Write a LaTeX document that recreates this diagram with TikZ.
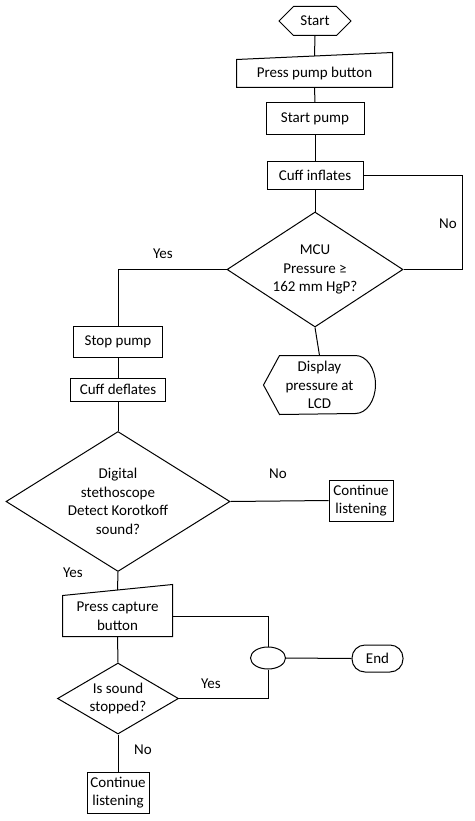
\documentclass[tikz,border=0pt]{standalone}
\usepackage{fontspec}
\setmainfont{Carlito}
\usetikzlibrary{shapes.geometric,shapes.symbols}

\begin{document}
\begin{tikzpicture}[x=1pt,y=-1pt,line width=1pt,
    every node/.style={font=\fontsize{15}{18.5}\selectfont},
    box/.style={draw,rectangle,align=center,inner sep=0pt},
    plain/.style={rectangle,align=center,inner sep=0pt},
    decision/.style={draw,diamond,align=center,inner sep=0pt}]
    \useasboundingbox (0,0) rectangle (474,821);

    % Pumping part
    \node[draw,signal,signal to=west and east,minimum width=72pt,minimum height=29pt,inner sep=0pt] (start) at (315,21) {Start};
    \node[plain,minimum width=155pt,minimum height=27pt] (ppb) at (314.5,73.5) {Press pump button};
    \draw (ppb.south west) -- (ppb.north west) -- coordinate[pos=.5] (ppbtop) ([yshift=7pt]ppb.north east) -- (ppb.south east) -- cycle;
    \node[box,minimum width=98pt,minimum height=32pt] (sp) at (315,119) {Start pump};
    \node[box,minimum width=96pt,minimum height=27pt] (ci) at (315,175.5) {Cuff inflates};
    \node[decision,aspect=1.53,minimum width=176pt,minimum height=115pt] (mcu) at (315,269.5) {MCU\\Pressure ≥\\162 mm HgP?};

    % Display
    \node[plain,minimum width=111pt,minimum height=58pt] (disp) at (319.5,385) {Display\\pressure at\\LCD};
    \draw (disp.west) -- ([xshift=16pt]disp.north west) -- ([xshift=-20pt]disp.north east)
        arc[start angle=90,end angle=-90,x radius=20pt,y radius=29pt] -- ([xshift=16pt]disp.south west) -- cycle;

    % Deflating part
    \node[box,minimum width=89pt,minimum height=31pt] (stop) at (118,341.5) {Stop pump};
    \node[box,minimum width=95pt,minimum height=23pt] (cd) at (118,389.5) {Cuff deflates};
    \node[decision,aspect=1.6,minimum width=224pt,minimum height=140pt] (dsd) at (118,501.5) {Digital\\stethoscope\\Detect Korotkoff\\sound?};
    \node[box,minimum width=64pt,minimum height=41pt] (cl1) at (361,500.5) {Continue\\listening};

    % Capture part
    \node[plain,minimum width=109pt,minimum height=40pt] (pcb) at (117.5,616) {Press capture\\button};
    \draw (pcb.south west) -- (pcb.north west) -- coordinate[pos=.5] (pcbtop) ([yshift=11pt]pcb.north east) -- (pcb.south east) -- cycle;
    \node[draw,ellipse,minimum width=35pt,minimum height=22pt,inner sep=0pt] (join) at (268,658) {};
    \node[draw,rounded corners=13pt,minimum width=51pt,minimum height=27pt,inner sep=0pt] (finish) at (377.5,658.5) {End};
    \node[decision,aspect=1.7,minimum width=121pt,minimum height=71pt] (iss) at (118,698.5) {Is sound\\stopped?};
    \node[box,minimum width=62pt,minimum height=41pt] (cl2) at (118,792.5) {Continue\\listening};

    % Labels
    \node (yes1) at (163,254) {Yes};
    \node (no1) at (448,224) {No};
    \node (no2) at (278,474) {No};
    \node (yes2) at (73,573) {Yes};
    \node (yes3) at (211,684) {Yes};
    \node (no3) at (143,750) {No};

    % Connectors
    \draw (start.south) -- (ppbtop);
    \draw (ppb.south) -- (sp.north);
    \draw (sp.south) -- (ci.north);
    \draw (ci.south) -- (mcu.north);
    \coordinate (loop) at (462,0);
    \draw (ci.east) -| (loop |- mcu.east) -- (mcu.east);
    \draw (mcu.west) -| (stop.north);
    \draw (mcu.south) -- (disp.north);
    \draw (stop.south) -- (cd.north);
    \draw (cd.south) -- (dsd.north);
    \draw (dsd.east) -- (cl1.west);
    \draw (dsd.south) -- (pcbtop);
    \draw (pcb.east) -| (join.north);
    \draw (join.east) -- (finish.west);
    \draw (join.south) |- (iss.east);
    \draw (pcb.south) -- (iss.north);
    \draw (iss.south) -- (cl2.north);
\end{tikzpicture}
\end{document}
